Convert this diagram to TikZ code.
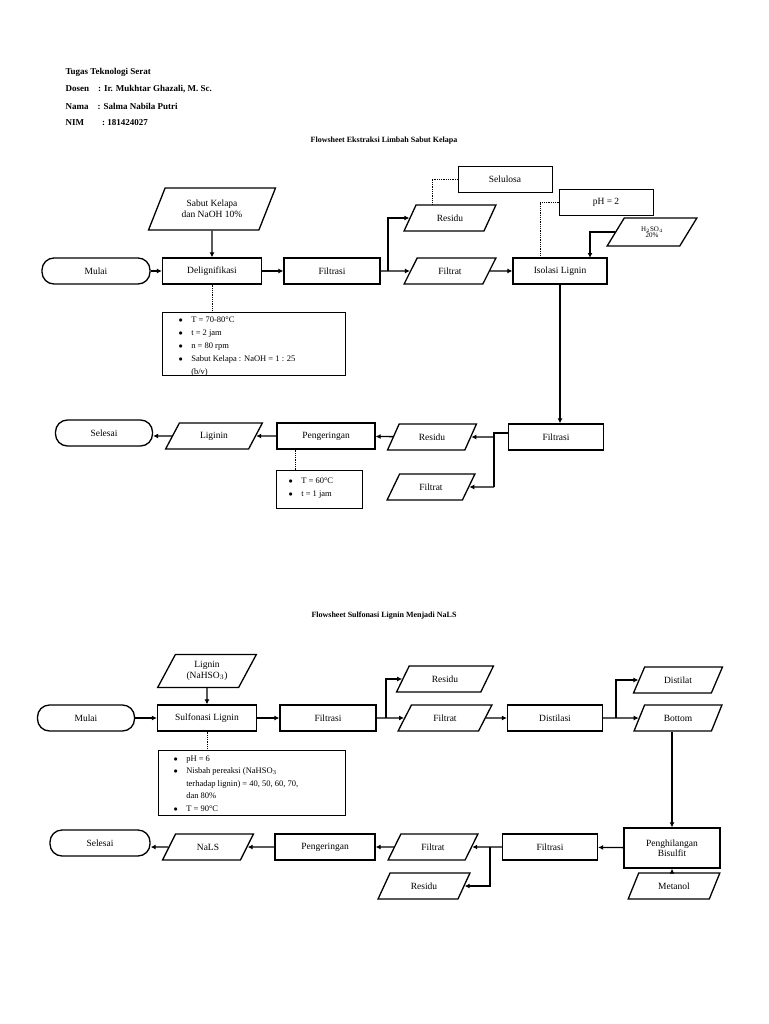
\documentclass[tikz,border=0pt]{standalone}
\usepackage{fontspec}
\setmainfont{Liberation Serif}
\usetikzlibrary{shapes.geometric,arrows.meta}
\begin{document}
\begin{tikzpicture}[x=1pt,y=-1pt,
 every node/.style={font=\fontsize{9.5}{10.5}\selectfont},
 box/.style={draw,line width=1.3pt,minimum width=96pt,minimum height=26pt,inner sep=1pt},
 para/.style={draw,line width=1.3pt,trapezium,trapezium left angle=60,trapezium right angle=120,trapezium stretches=true,minimum width=92pt,minimum height=26pt,inner sep=1pt},
 term/.style={draw,line width=1.3pt,rounded corners=12pt,minimum width=98pt,minimum height=26pt},
 note/.style={draw,line width=0.6pt,minimum width=94pt,minimum height=26pt},
 ar/.style={line width=1.3pt,-{Latex[length=5pt,width=5pt]}},
 ln/.style={line width=1.3pt},
 dot/.style={densely dotted,line width=0.8pt},
 hd/.style={font=\fontsize{9}{10}\selectfont\bfseries,anchor=west}]
\useasboundingbox (0,0) rectangle (768,1024);
% header
\node[hd] (h1) at (62,72) {Tugas Teknologi Serat};
\node[hd] (h2) at (62,89) {Dosen\quad: Ir. Mukhtar Ghazali, M. Sc.};
\node[hd] (h3) at (62,106) {Nama\quad: Salma Nabila Putri};
\node[hd] (h4) at (62,123) {NIM\qquad: 181424027};
\node[font=\fontsize{8}{9}\selectfont\bfseries] (t1) at (384,141) {Flowsheet Ekstraksi Limbah Sabut Kelapa};
\node[font=\fontsize{8}{9}\selectfont\bfseries] (t2) at (384,616) {Flowsheet Sulfonasi Lignin Menjadi NaLS};

% ---- top
\node[term,minimum width=108pt] (m1) at (96,271) {Mulai};
\node[box,minimum width=99pt] (d1) at (212,271) {Delignifikasi};
\node[para,minimum width=128pt,minimum height=42pt,align=center] (sk) at (212,209) {Sabut Kelapa\\dan NaOH 10\%};
\node[box] (f1) at (332,271) {Filtrasi};
\node[para] (r1) at (450,218) {Residu};
\node[para] (ft1) at (450,271) {Filtrat};
\node[note] (sel) at (505,179) {Selulosa};
\node[box,minimum width=94pt] (il) at (560,271) {Isolasi Lignin};
\node[note] (ph) at (606,202) {pH = 2};
\node[para,minimum width=90pt,minimum height=28pt,align=center,font=\fontsize{7}{8}\selectfont] (h2s) at (652,232) {H$_2$SO$_4$\\[-2pt]20\%};
\node[box,minimum width=95pt] (f2) at (556,437) {Filtrasi};
\node[para,minimum width=89pt] (r2) at (432,437) {Residu};
\node[para,minimum width=88pt] (ft2) at (431,487) {Filtrat};
\node[box,minimum width=98pt] (p1) at (326,436) {Pengeringan};
\node[para,minimum width=97pt] (lg) at (214,436) {Liginin};
\node[term,minimum width=97pt] (s1) at (104,433) {Selesai};
\draw[line width=0.6pt] (162,312) rectangle (345,375);
\begin{scope}
\clip (162,312) rectangle (345,375);
\node[anchor=north west,align=left,font=\fontsize{8.5}{13}\selectfont] (n1) at (175,313) {%
$\bullet$\quad T = 70-80\textdegree C\\ $\bullet$\quad t = 2 jam\\ $\bullet$\quad n = 80 rpm\\ $\bullet$\quad Sabut Kelapa : NaOH = 1 : 25\\ \phantom{$\bullet$\quad}(b/v)};
\end{scope}
\draw[line width=0.6pt] (276,470) rectangle (362,508);
\node[anchor=north west,align=left,font=\fontsize{8.5}{13}\selectfont] (n2) at (285,474) {$\bullet$\quad T = 60\textdegree C\\ $\bullet$\quad t = 1 jam};
\coordinate (n1t) at (212,312);
\coordinate (n2t) at (295,470);

\draw[ar] (m1) -- (d1);
\draw[ar] (sk) -- (d1);
\draw[ar] (d1) -- (f1);
\draw[ar] (f1) -- (ft1);
\draw[ar] (388,271) |- (r1.west);
\draw[ar] (ft1) -- (il);
\draw[dot] (r1.north) ++(-18,0) |- (sel.west);
\draw[dot] (il.north) ++(-20,0) |- (ph.west);
\draw[ar] (h2s.west) -| (590,258);
\draw[ar] (il.south) -- (il.south |- f2.north);
\draw[ln] (f2.west) ++(0,-4) -- (494,433) -- (494,487);
\draw[ar] (494,437) -- (r2.east);
\draw[ar] (494,487) -- (ft2.east);
\draw[ar] (r2) -- (p1);
\draw[ar] (p1) -- (lg);
\draw[ar] (lg) -- (s1.east |- lg);
\draw[dot] (d1.south) -- (n1t);
\draw[dot] (p1.south -| n2t) -- (n2t);

% ---- bottom
\node[para,minimum width=99pt,minimum height=33pt,align=center] (li) at (207,671) {Lignin\\(NaHSO$_3$)};
\node[term,minimum width=97pt] (m2) at (86,718) {Mulai};
\node[box,minimum width=99pt] (sl) at (207,718) {Sulfonasi Lignin};
\node[box] (f3) at (328,718) {Filtrasi};
\node[para,minimum width=97pt] (r3) at (445,679) {Residu};
\node[para,minimum width=94pt] (ft3) at (445,718) {Filtrat};
\node[box,minimum width=95pt] (ds) at (555,718) {Distilasi};
\node[para,minimum width=89pt] (dl) at (678,680) {Distilat};
\node[para,minimum width=88pt] (bt) at (678,718) {Bottom};
\node[box,minimum width=96pt,minimum height=40pt,align=center] (pb) at (672,848) {Penghilangan\\Bisulfit};
\node[para,minimum width=92pt] (mt) at (674,886) {Metanol};
\node[box,minimum width=95pt] (f4) at (550,847) {Filtrasi};
\node[para,minimum width=90pt] (ft4) at (433,847) {Filtrat};
\node[para,minimum width=92pt] (r4) at (424,886) {Residu};
\node[box,minimum width=100pt] (p2) at (325,847) {Pengeringan};
\node[para,minimum width=91pt] (nl) at (208,847) {NaLS};
\node[term,minimum width=100pt] (s2) at (100,843) {Selesai};
\draw[line width=0.6pt] (158,750) rectangle (345,815);
\begin{scope}
\clip (158,750) rectangle (345,815);
\node[anchor=north west,align=left,font=\fontsize{8.5}{12.5}\selectfont] (n3) at (170,752) {%
$\bullet$\quad pH = 6\\ $\bullet$\quad Nisbah pereaksi (NaHSO$_3$\\ \phantom{$\bullet$\quad}terhadap lignin) = 40, 50, 60, 70,\\ \phantom{$\bullet$\quad}dan 80\%\\ $\bullet$\quad T = 90\textdegree C};
\end{scope}
\coordinate (n3t) at (207,750);

\draw[ar] (m2) -- (sl);
\draw[ar] (li) -- (sl);
\draw[ar] (sl) -- (f3);
\draw[ar] (f3) -- (ft3);
\draw[ar] (386,718) |- (r3.west);
\draw[ar] (ft3) -- (ds);
\draw[ar] (ds) -- (bt);
\draw[ar] (616,718) |- (dl.west);
\draw[dot] (sl.south) -- (n3t);
\draw[ar] (bt.south -| pb.north) -- (pb.north);
\draw[ar] (mt.north -| pb.south) -- (pb.south);
\draw[ar] (pb) -- (f4);
\draw[ar] (f4) -- (ft4);
\draw[ar] (490,847) |- (r4.east);
\draw[ar] (ft4) -- (p2);
\draw[ar] (p2) -- (nl);
\draw[ar] (nl) -- (s2.east |- nl);
\end{tikzpicture}
\end{document}
